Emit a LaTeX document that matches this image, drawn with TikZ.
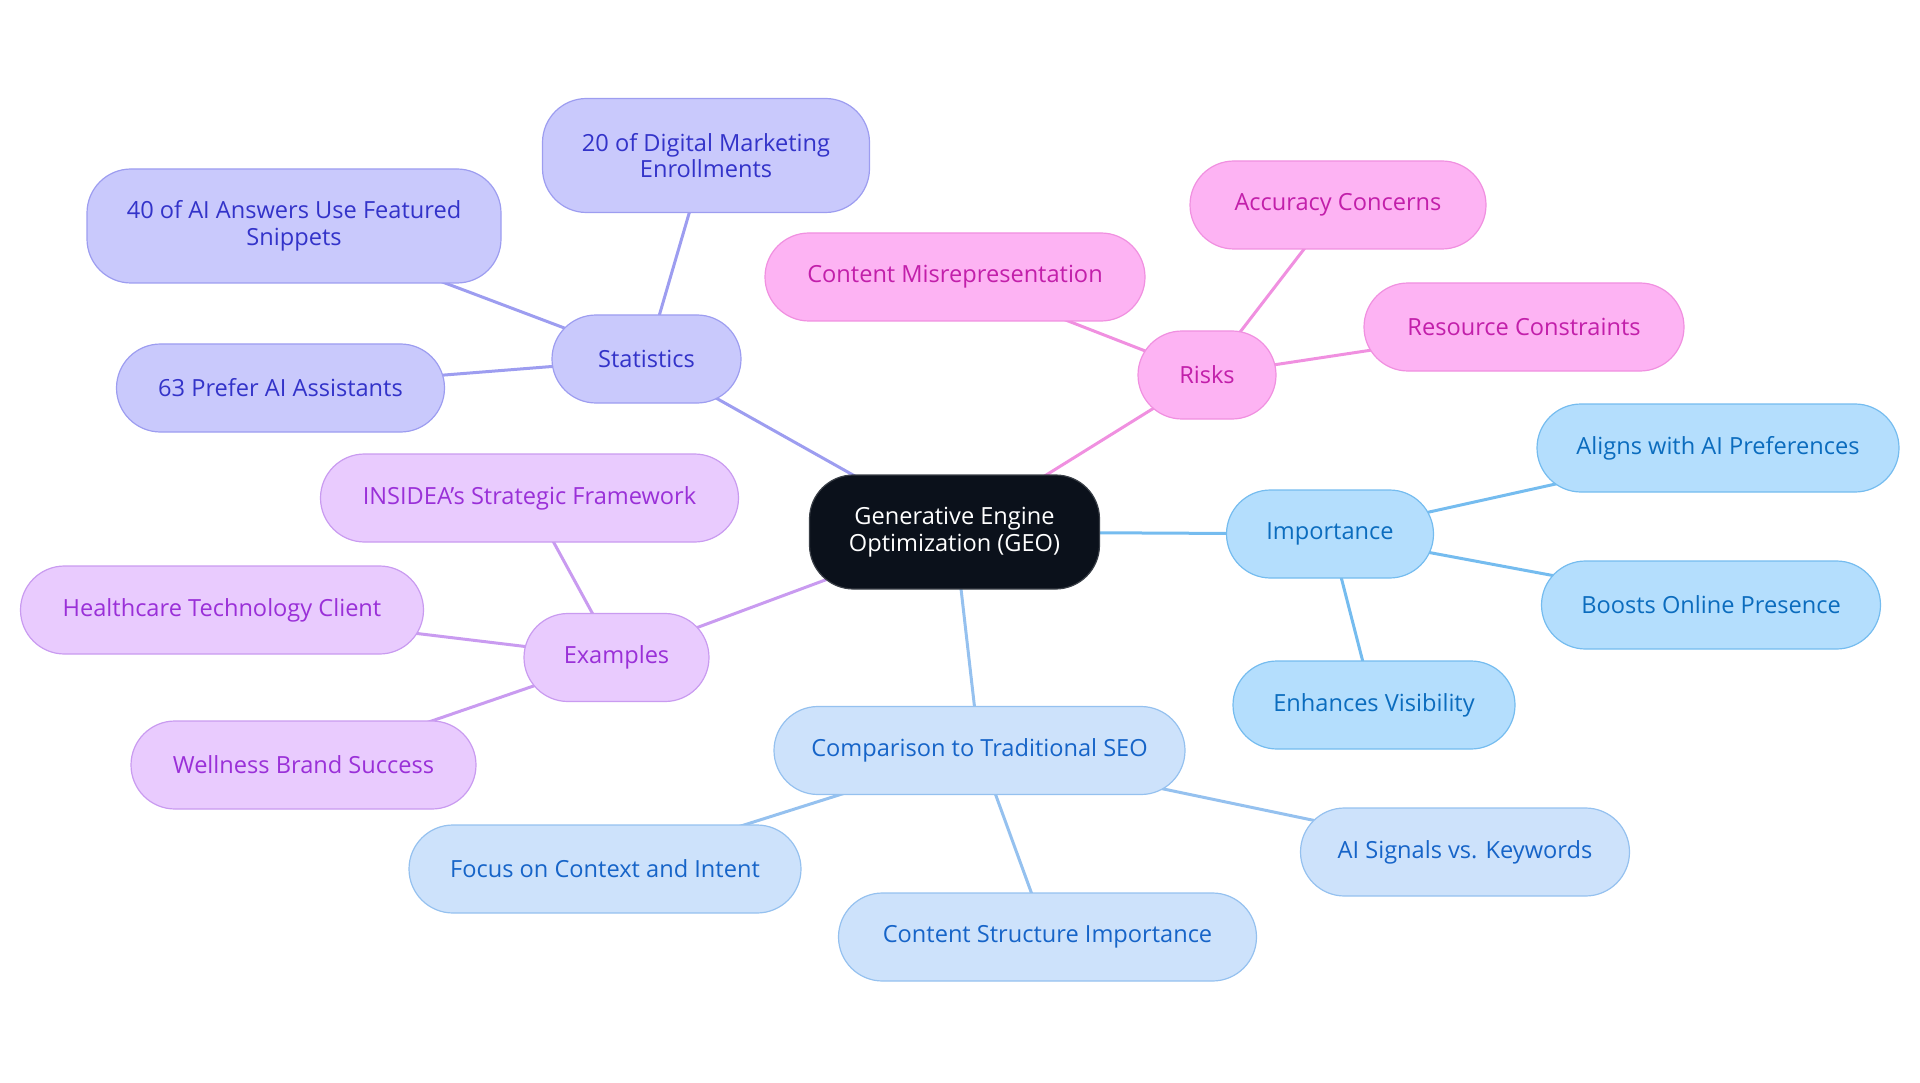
\documentclass[tikz,border=0pt]{standalone}
\usepackage{fontspec}
\setmainfont{Open Sans}
\usetikzlibrary{backgrounds}
\definecolor{geofill}{HTML}{0B111B}
\definecolor{geodraw}{HTML}{3A3F47}
\definecolor{statfill}{HTML}{C9C9FC}
\definecolor{statdraw}{HTML}{9D9DF0}
\definecolor{stattext}{HTML}{3333C9}
\definecolor{riskfill}{HTML}{FDB3F3}
\definecolor{riskdraw}{HTML}{F090E0}
\definecolor{risktext}{HTML}{C21FAA}
\definecolor{impfill}{HTML}{B4DEFD}
\definecolor{impdraw}{HTML}{75BCEF}
\definecolor{imptext}{HTML}{0B6CBE}
\definecolor{compfill}{HTML}{CDE2FB}
\definecolor{compdraw}{HTML}{95C1EF}
\definecolor{comptext}{HTML}{1664C8}
\definecolor{exfill}{HTML}{E9CBFE}
\definecolor{exdraw}{HTML}{C99BF0}
\definecolor{extext}{HTML}{9A30D8}
\begin{document}
\begin{tikzpicture}[x=1pt,y=-1pt,
  base/.style={rectangle, rounded corners=44pt, line width=1.2pt, align=center,
    font=\fontsize{23.6}{26.5}\selectfont, inner sep=0pt, minimum height=88pt},
  tall/.style={minimum height=114pt},
  geonode/.style={base, tall, fill=geofill, draw=geodraw, text=white},
  statnode/.style={base, fill=statfill, draw=statdraw, text=stattext},
  risknode/.style={base, fill=riskfill, draw=riskdraw, text=risktext},
  impnode/.style={base, fill=impfill, draw=impdraw, text=imptext},
  compnode/.style={base, fill=compfill, draw=compdraw, text=comptext},
  exnode/.style={base, fill=exfill, draw=exdraw, text=extext},
  statedge/.style={draw=statdraw, line width=3pt},
  riskedge/.style={draw=riskdraw, line width=3pt},
  impedge/.style={draw=impdraw, line width=3pt},
  compedge/.style={draw=compdraw, line width=3pt},
  exedge/.style={draw=exdraw, line width=3pt}
]
\useasboundingbox (0,0) rectangle (1920,1083);
% center
\node[geonode, minimum width=290pt] (geo) at (954.5,532) {Generative Engine\\Optimization (GEO)};
% statistics
\node[statnode, minimum width=189pt] (stat) at (646.5,359) {Statistics};
\node[statnode, tall, minimum width=327pt] (s1) at (706,155.5) {20 of Digital Marketing\\Enrollments};
\node[statnode, tall, minimum width=414pt] (s2) at (294,226) {40 of AI Answers Use Featured\\Snippets};
\node[statnode, minimum width=328pt] (s3) at (280.5,388) {63 Prefer AI Assistants};
% risks
\node[risknode, minimum width=138pt] (risk) at (1207,375) {Risks};
\node[risknode, minimum width=296pt] (r1) at (1338,205) {Accuracy Concerns};
\node[risknode, minimum width=380pt] (r2) at (955,277) {Content Misrepresentation};
\node[risknode, minimum width=320pt] (r3) at (1524,327) {Resource Constraints};
% importance
\node[impnode, minimum width=207pt] (imp) at (1330,534) {Importance};
\node[impnode, minimum width=362pt] (i1) at (1718,448) {Aligns with AI Preferences};
\node[impnode, minimum width=339pt] (i2) at (1711,605) {Boosts Online Presence};
\node[impnode, minimum width=282pt] (i3) at (1374,705) {Enhances Visibility};
% comparison
\node[compnode, minimum width=411pt] (comp) at (979.5,750.5) {Comparison to Traditional SEO};
\node[compnode, minimum width=392pt] (c1) at (605,869) {Focus on Context and Intent};
\node[compnode, minimum width=418pt] (c2) at (1047.5,937) {Content Structure Importance};
\node[compnode, minimum width=329pt] (c3) at (1465,852) {AI Signals vs. Keywords};
% examples
\node[exnode, minimum width=185pt] (ex) at (616.5,657.5) {Examples};
\node[exnode, minimum width=418pt] (e1) at (529.5,498) {INSIDEA's Strategic Framework};
\node[exnode, minimum width=403pt] (e2) at (222,610) {Healthcare Technology Client};
\node[exnode, minimum width=345pt] (e3) at (303.5,765) {Wellness Brand Success};
\begin{scope}[on background layer]
\draw[statedge] (geo.center) -- (stat.center);
\draw[statedge] (stat.center) -- (s1.center);
\draw[statedge] (stat.center) -- (s2.center);
\draw[statedge] (stat.center) -- (s3.center);
\draw[riskedge] (geo.center) -- (risk.center);
\draw[riskedge] (risk.center) -- (r1.center);
\draw[riskedge] (risk.center) -- (r2.center);
\draw[riskedge] (risk.center) -- (r3.center);
\draw[impedge] (geo.center) -- (imp.center);
\draw[impedge] (imp.center) -- (i1.center);
\draw[impedge] (imp.center) -- (i2.center);
\draw[impedge] (imp.center) -- (i3.center);
\draw[compedge] (geo.center) -- (comp.center);
\draw[compedge] (comp.center) -- (c1.center);
\draw[compedge] (comp.center) -- (c2.center);
\draw[compedge] (comp.center) -- (c3.center);
\draw[exedge] (geo.center) -- (ex.center);
\draw[exedge] (ex.center) -- (e1.center);
\draw[exedge] (ex.center) -- (e2.center);
\draw[exedge] (ex.center) -- (e3.center);
\end{scope}
\end{tikzpicture}
\end{document}
